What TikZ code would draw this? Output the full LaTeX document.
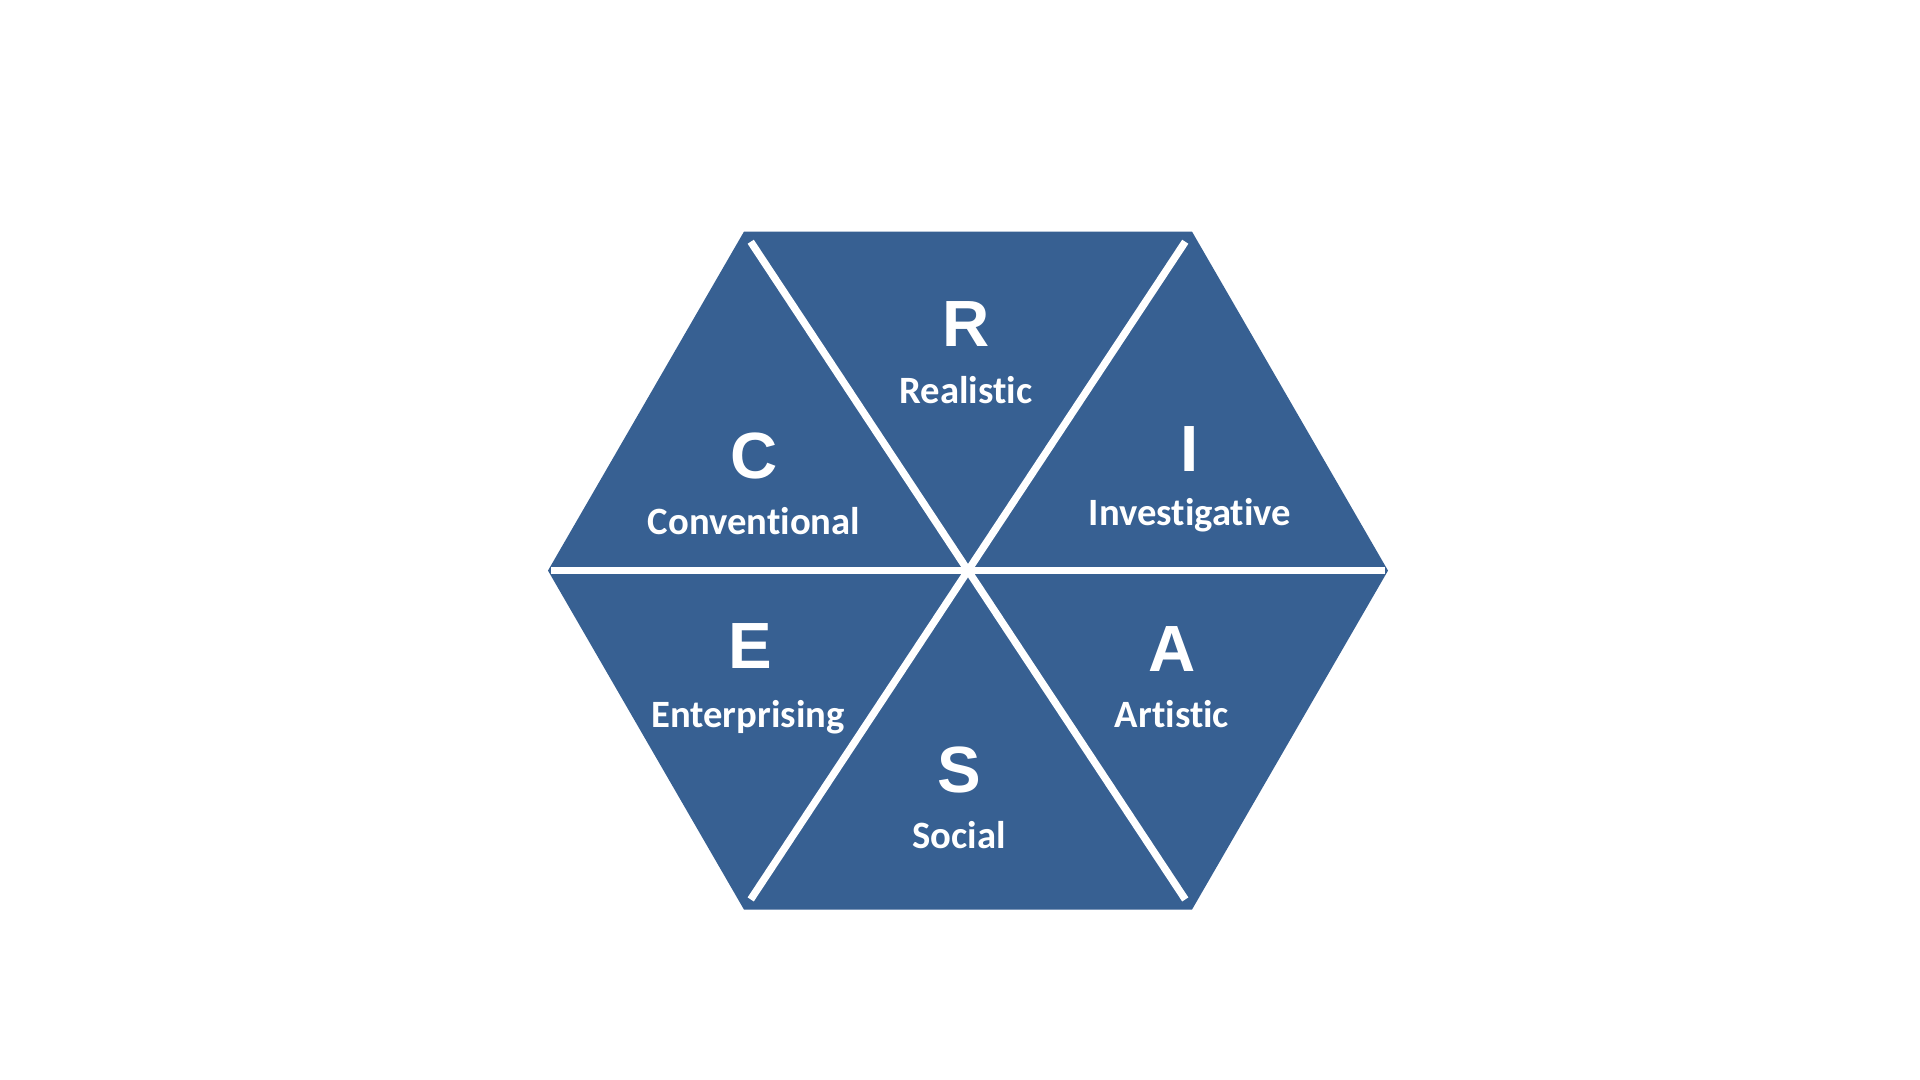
\documentclass[tikz,border=0pt]{standalone}
\usepackage{fontspec}
\setmainfont{Carlito}[Ligatures=NoCommon]
\newfontfamily\letterfont{Liberation Sans}
\usetikzlibrary{calc}
\definecolor{hexblue}{RGB}{55,96,146}

\begin{document}
\begin{tikzpicture}[
  letter/.style={text=white, font=\fontsize{18.6}{20}\selectfont\letterfont\bfseries, inner sep=0pt},
  word/.style={text=white, font=\fontsize{11}{12}\selectfont\bfseries, inner sep=0pt, anchor=base},
  divider/.style={draw=white, line width=2.1pt}
]
\useasboundingbox (-9.68,-5.094) rectangle (9.52,5.706);

% Hexagon corners
\coordinate (rt) at (4.2,0);
\coordinate (tr) at (2.24,3.39);
\coordinate (tl) at (-2.24,3.39);
\coordinate (lf) at (-4.2,0);
\coordinate (bl) at (-2.24,-3.39);
\coordinate (br) at (2.24,-3.39);

\fill[hexblue] (rt) -- (tr) -- (tl) -- (lf) -- (bl) -- (br) -- cycle;

% Dividers
\draw[divider] ($(tl)!0.015!(br)$) -- ($(br)!0.015!(tl)$);
\draw[divider] ($(tr)!0.015!(bl)$) -- ($(bl)!0.015!(tr)$);
\draw[divider] ($(lf)!0.004!(rt)$) -- ($(rt)!0.004!(lf)$);

% Types
\node[letter] (R) at (-0.02,2.466) {R};
\node[word] (real) at (-0.02,1.666) {Realistic};

\node[letter] (I) at (2.22,1.216) {I};
\node[word] (inv) at (2.22,0.446) {Investigative};

\node[letter] (A) at (2.04,-0.784) {A};
\node[word] (art) at (2.04,-1.564) {Artistic};

\node[letter] (S) at (-0.09,-1.994) {S};
\node[word] (soc) at (-0.09,-2.774) {Social};

\node[letter] (E) at (-2.174,-0.759) {E};
\node[word] (ent) at (-2.2,-1.564) {Enterprising};

\node[letter] (C) at (-2.14,1.146) {C};
\node[word] (conv) at (-2.14,0.356) {Conventional};

\end{tikzpicture}
\end{document}
